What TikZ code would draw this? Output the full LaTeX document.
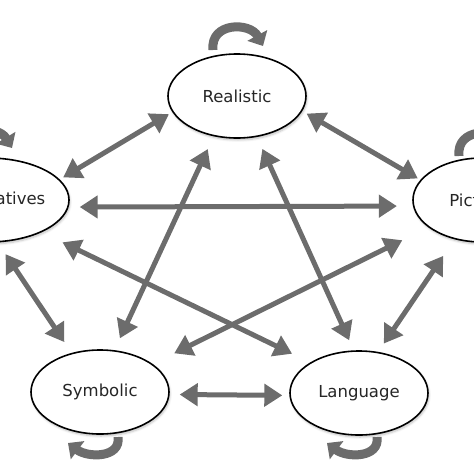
\documentclass[tikz,border=0pt]{standalone}
\usepackage{fontspec}
\setmainfont{DejaVu Sans}
\usetikzlibrary{arrows.meta}
\usetikzlibrary{shapes.geometric}
\usetikzlibrary{shadows.blur}

\definecolor{arrowgray}{RGB}{108,108,108}

\tikzset{
  mode/.style = {ellipse, draw, line width = 1.6pt, fill = white,
    minimum width = 138pt, minimum height = 84pt, inner sep = 0pt,
    text = black!85, font = \fontsize{16.5}{19}\selectfont,
    blur shadow = {shadow xshift = 1pt, shadow yshift = -2pt,
      shadow opacity = 25, shadow blur steps = 6}},
  link/.style = {draw = arrowgray, line width = 5pt,
    {Triangle[length = 18pt, width = 22pt]}-{Triangle[length = 18pt, width = 22pt]}},
  loopy/.style = {draw = arrowgray, line width = 9pt,
    -{Triangle[length = 12pt, width = 22pt]}}
}

\begin{document}
\begin{tikzpicture}[x = 1pt, y = -1pt]
  \useasboundingbox (0, 0) rectangle (474, 474);
  \clip (0, 0) rectangle (474, 474);

  \node[mode] (real) at (237, 96) {Realistic};
  \node[mode] (manip) at (-12, 200) {Manipulatives};
  \node[mode] (pict) at (482, 200) {Pictures};
  \node[mode] (symb) at (100, 392) {Symbolic};
  \node[mode] (lang) at (359, 393) {Language};

  % two-way links between the modes
  \foreach \a/\b/\s/\e in {manip.16.6/real.194.6/4/4,
    real.-13.6/pict.162.9/5/3, manip.-5/pict.185.4/11/16,
    manip.-31/lang.148.2/23/20, pict.207.1/symb.28.7/29/24,
    manip.-77.9/symb.126.5/14/13, pict.235.1/lang.65.3/20/10,
    symb.-2.9/lang.182.2/10/7, real.240.5/symb.71.9/14/13,
    real.-64.7/lang.97.4/13/11}{
    \draw[link, shorten <= \s pt, shorten >= \e pt] (\a) -- (\b);
  }

  % loops on each mode
  \draw[loopy] (213, 50) .. controls (210, 22) and (250, 22) .. (263, 46);
  \draw[loopy] (-35, 155) .. controls (-38, 127) and (-2, 125) .. (12, 148);
  \draw[loopy] (459, 156) .. controls (456, 128) and (496, 128) .. (509, 152);
  \draw[loopy] (118, 437) .. controls (121, 458) and (88, 458) .. (68, 443);
  \draw[loopy] (377, 437) .. controls (380, 458) and (347, 458) .. (327, 443);
\end{tikzpicture}
\end{document}
